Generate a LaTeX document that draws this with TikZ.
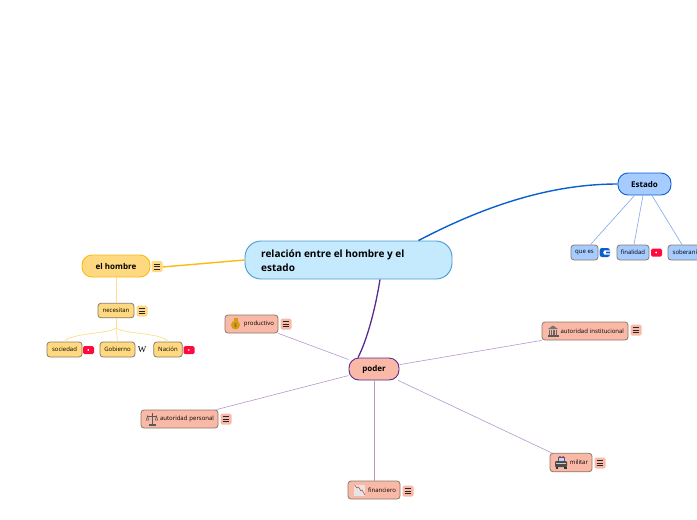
\documentclass[tikz,border=0pt]{standalone}
\usepackage{fontspec}
\setmainfont{Open Sans}
\usetikzlibrary{calc}

\definecolor{mainfill}{HTML}{C5E9FD}
\definecolor{mainline}{HTML}{4A9BD4}
\definecolor{bluefill}{HTML}{A6CBFF}
\definecolor{blueline}{HTML}{0A5FCF}
\definecolor{bluethin}{HTML}{7FA8E8}
\definecolor{yellowfill}{HTML}{FFD980}
\definecolor{yellowline}{HTML}{FDB813}
\definecolor{yellowthin}{HTML}{FFDD8C}
\definecolor{redfill}{HTML}{F9B9A6}
\definecolor{purpleline}{HTML}{5B2A8F}
\definecolor{purplethin}{HTML}{B597CC}
\definecolor{boxline}{HTML}{8A7A6A}
\definecolor{ytred}{HTML}{FF0A3C}

\tikzset{
    mainbox/.style={draw=mainline,fill=mainfill,line width=.9pt,rounded corners=16pt,minimum width=207pt,minimum height=38pt},
    topicbox/.style={line width=.9pt,rounded corners=10pt,minimum height=22pt,font=\fontsize{8}{10}\selectfont\bfseries},
    leafbox/.style={draw=boxline,line width=.8pt,rounded corners=3pt,inner sep=0pt,font=\fontsize{6}{7}\selectfont},
    menubadge/.style={rounded corners=1.5pt,minimum size=11pt,inner sep=0pt,path picture={
        \draw[black!85,line width=.65pt] ([shift={(-3.3pt,2.6pt)}]path picture bounding box.center) -- ++(6.6pt,0);
        \draw[black!85,line width=.65pt] ([shift={(-3.3pt,0pt)}]path picture bounding box.center) -- ++(6.6pt,0);
        \draw[black!85,line width=.65pt] ([shift={(-3.3pt,-2.6pt)}]path picture bounding box.center) -- ++(6.6pt,0);
    }},
    ytbadge/.style={fill=ytred,rounded corners=1.5pt,minimum width=11pt,minimum height=8pt,inner sep=0pt,path picture={
        \fill[white] ([shift={(-1.3pt,1.6pt)}]path picture bounding box.center) -- ++(3pt,-1.6pt) -- ++(-3pt,-1.6pt) -- cycle;
    }},
}

\begin{document}
\begin{tikzpicture}[x=1pt,y=-1pt]
    \useasboundingbox (0,0) rectangle (697,520);
    \clip (0,0) rectangle (697,520);
    % main
    \node[mainbox] (main) at (348.5,260) {};
    \node[anchor=west,inner sep=0pt,align=left,font=\fontsize{10}{14}\selectfont\bfseries] (maintext) at (261,260.5) {relación entre el hombre y el\\estado};
    % Estado
    \node[topicbox,draw=blueline,fill=bluefill,minimum width=53pt] (estado) at (644.5,184) {Estado};
    \node[leafbox,fill=bluefill,minimum width=27pt,minimum height=15pt] (quees) at (584.5,252.5) {que es};
    \node[leafbox,fill=bluefill,minimum width=32pt,minimum height=15pt] (finalidad) at (633,252.5) {finalidad};
    \node[leafbox,fill=bluefill,minimum width=37pt,minimum height=15pt] (soberania) at (686.5,252.5) {soberanía};
    \draw[blueline,line width=1.4pt] ([xshift=-34pt]main.north east) .. controls (490,203) and (555,184) .. (estado.west);
    \draw[bluethin,line width=.6pt] ([xshift=-10pt]estado.south) -- ([xshift=6pt]quees.north);
    \draw[bluethin,line width=.6pt] ([xshift=-1.5pt]estado.south) -- ([xshift=1pt]finalidad.north);
    \draw[bluethin,line width=.6pt] ([xshift=7.5pt]estado.south) -- ([xshift=-4.5pt]soberania.north);
    % el hombre
    \node[topicbox,draw=yellowline,fill=yellowfill,minimum width=68pt] (hombre) at (116,266) {el hombre};
    \node[leafbox,fill=yellowfill,minimum width=36pt,minimum height=14.5pt] (necesitan) at (116,310.5) {necesitan};
    \node[leafbox,fill=yellowfill,minimum width=35pt,minimum height=15pt] (sociedad) at (64.5,349.5) {sociedad};
    \node[leafbox,fill=yellowfill,minimum width=35pt,minimum height=15pt] (gobierno) at (117.5,349.5) {Gobierno};
    \node[leafbox,fill=yellowfill,minimum width=28.5pt,minimum height=15pt] (nacion) at (168,349.5) {Nación};
    \node[inner sep=0pt,font=\fontsize{9}{10}\selectfont] (wiki) at (142,350) {\fontspec{Liberation Serif}W};
    \draw[yellowline,line width=1.4pt] (main.west) -- (162.5,267);
    \draw[yellowthin,line width=.7pt] (hombre.south) -- (necesitan.north);
    \coordinate (split) at (116,328);
    \draw[yellowthin,line width=.7pt] (necesitan.south) -- (split);
    \draw[yellowthin,line width=.7pt] (split) .. controls (108,334) and (70,333) .. (sociedad.north);
    \draw[yellowthin,line width=.7pt] (split) -- (gobierno.north);
    \draw[yellowthin,line width=.7pt] (split) .. controls (124,334) and (163,333) .. (nacion.north);
    % poder
    \node[topicbox,draw=purpleline,fill=redfill,minimum width=50pt] (poder) at (374,369) {poder};
    \node[leafbox,fill=redfill,minimum width=53pt,minimum height=18pt,text width=45pt,align=right] (productivo) at (251.5,324) {productivo};
    \node[leafbox,fill=redfill,minimum width=77pt,minimum height=18pt,text width=69pt,align=right] (personal) at (179.5,419) {autoridad personal};
    \node[leafbox,fill=redfill,minimum width=52pt,minimum height=18pt,text width=44pt,align=right] (financiero) at (374,490) {financiero};
    \node[leafbox,fill=redfill,minimum width=42pt,minimum height=18.5pt,text width=34pt,align=right] (militar) at (571,462.5) {militar};
    \node[leafbox,fill=redfill,minimum width=86pt,minimum height=18pt,text width=78pt,align=right] (institucional) at (585,331) {autoridad institucional};
    \draw[purpleline,line width=1.3pt] (main.south) ++(31.5,0) .. controls (376,305) and (368,338) .. ([xshift=-16pt]poder.north);
    \draw[purplethin,line width=.6pt] (poder) -- (productivo.south east);
    \draw[purplethin,line width=.6pt] (poder) -- ([xshift=-2pt]personal.north east);
    \draw[purplethin,line width=.6pt] (poder) -- (financiero.north);
    \draw[purplethin,line width=.6pt] (poder) -- ([xshift=2pt]militar.north west);
    \draw[purplethin,line width=.6pt] (poder) -- (institucional.south west);
    % badges
    \node[menubadge,fill=yellowfill] (menuhombre) at (157,266.5) {};
    \node[menubadge,fill=yellowfill] (menunecesitan) at (142,311) {};
    \foreach \menuname/\menux/\menuy in {productivo/286/324,personal/226/419,financiero/408/491,militar/600/463,institucional/636/330}
        \node[menubadge,fill=redfill] (menu\menuname) at (\menux,\menuy) {};
    \foreach \ytname/\ytx/\yty in {finalidad/656.5/252.5,sociedad/88.5/350,nacion/189/350}
        \node[ytbadge] (yt\ytname) at (\ytx,\yty) {};
    % que es icon
    \fill[blueline,rounded corners=2.5pt] (599.5,248) rectangle (610,257);
    \fill[white] (610,250.3) -- (604.5,250.3) -- (603.2,252.5) -- (604.5,254.7) -- (610,254.7) -- (610,253.4) -- (605.8,253.4) -- (605.8,251.6) -- (610,251.6) -- cycle;
    % money bag
    \fill[yellowline!85!black] (235.5,325) circle (4.5pt);
    \fill[yellowline!85!black] (233.5,318) rectangle (237.5,321.5);
    \node[inner sep=0pt,font=\fontsize{5}{6}\selectfont,text=black!70] (moneytext) at (235.5,325.5) {\$};
    % scales
    \draw[black!65,line width=.8pt] (152,412.5) -- (152,424.5);
    \draw[black!65,line width=.6pt] (147.5,416) -- (156.5,416);
    \draw[black!65,line width=.5pt] (147.5,416) -- (146.3,420) -- (148.7,420) -- cycle;
    \draw[black!65,line width=.5pt] (156.5,416) -- (155.3,420) -- (157.7,420) -- cycle;
    \fill[black!65] (148.5,424) rectangle (155.5,425.5);
    % falling chart
    \fill[black!10] (354,484.5) rectangle (365,496);
    \draw[red!70!black!70,line width=.6pt] (354.5,485) -- (357,488) -- (358.5,487) -- (361,491) -- (362,490) -- (365,495);
    % car
    \fill[black!65] (557.5,457) rectangle (564.5,461);
    \fill[white!80!blue] (558.5,458) rectangle (563.5,460.5);
    \fill[black!70,rounded corners=1pt] (555,461) rectangle (567,467);
    \fill[white!80!black] (556,463) rectangle (566,464);
    \fill[black!80] (555.5,467) rectangle (558,468.5);
    \fill[black!80] (564,467) rectangle (566.5,468.5);
    \fill[blue!60] (558.5,456) rectangle (560.5,457);
    \fill[red!70] (561.5,456) rectangle (563.5,457);
    % bank
    \fill[black!55] (548,329) -- (553,325.5) -- (558,329) -- cycle;
    \foreach \columnx in {548.7,551,553.3,555.6}
        \fill[black!60] (\columnx,330) rectangle (\columnx+1.3,335);
    \fill[black!65] (547.5,335) rectangle (558.5,336.5);
\end{tikzpicture}
\end{document}
